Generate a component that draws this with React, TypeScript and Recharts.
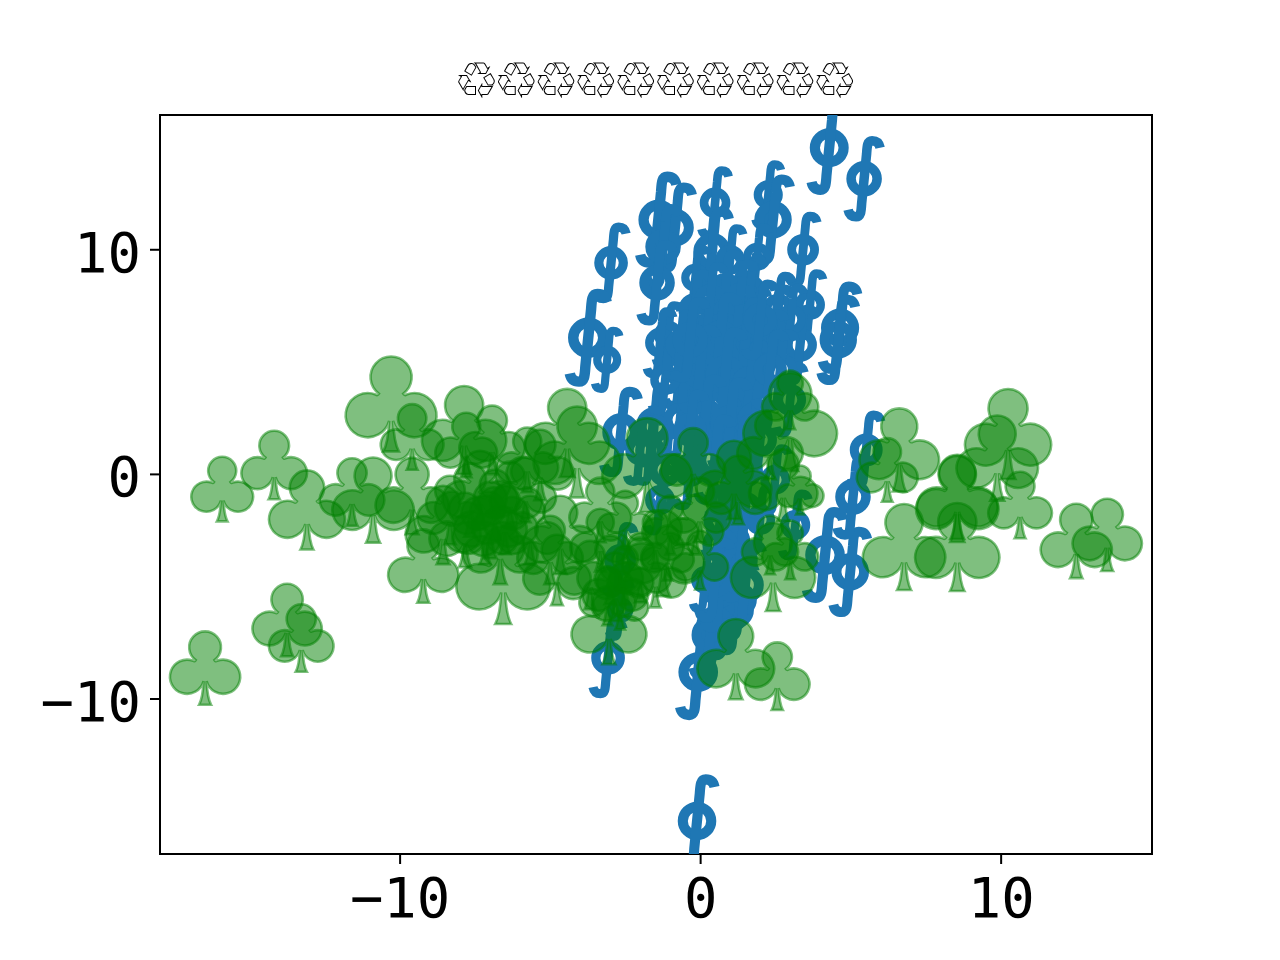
import React from "react";
import { ScatterChart, Scatter, XAxis, YAxis, ReferenceArea } from "recharts";

const titleText = "♲♲♲♲♲♲♲♲♲♲";
const xTicks = [-10, 0, 10];
const yTicks = [-10, 0, 10];

const blueX = [4.28,5.44,-2.98,-3.74,-3.11,-1.41,-0.85,-1.25,-1.45,0.48,0.38,2.25,2.41,1.88,3.41,-0.18,4.64,4.58,-1.08,-1.35,0.98,2.58,3.64,3.31,2.48,3.0,-2.65,-1.55,4.98,4.14,5.07,5.51,-3.08,-0.08,-0.12,0.82,1.15,1.31,0.48,0.32,0.65,1.48,0.65,1.15,1.65,0.32,0.98,0,-0.68,-1.18,-0.35,0.32,0.98,1.81,2.31,1.31,0.65,0,-0.68,-0.35,0.82,1.98,1.48,2.48,-1.68,-1.18,0.65,1.98,3.15,2.98,2.65,-0.18,0.82,1.65,-0.68,0.32,-2.01,-1.35,1.15,-2.68,-2.68,0.15,1.31,0.65,1.48,-0.02,0.82,1.65,0.15,0.98,1.81,0.48,1.31,0.82,1.48,0.65,1.31,0.48,-0.35,1.98,2.31,-0.35];
const blueY = [14.54,13.16,9.42,6.08,5.10,11.34,10.98,10.13,8.53,12.09,9.91,12.45,11.34,9.69,10.00,8.75,6.53,5.99,6.21,5.86,9.55,7.33,7.55,5.77,6.44,6.9,1.89,2.20,-4.34,-3.59,-1.00,1.09,-8.17,-8.80,-15.43,-6.26,-6.04,-5.59,-6.70,-7.15,-5.14,-4.92,6.88,7.33,6.44,5.55,5.55,6.0,4.66,4.21,3.32,3.32,3.77,5.10,5.55,2.43,1.54,1.54,2.43,0.20,-0.24,1.54,0.20,-0.24,1.07,0.20,-2.03,-2.03,-2.25,3.32,4.66,7.33,8.22,8.22,5.77,7.77,1.07,-1.14,-2.92,-3.81,-6.04,-4.70,7.77,5.99,5.77,4.65,4.43,3.99,2.43,2.2,2.43,0.65,0.65,-1.14,-1.58,-3.14,-3.81,-4.7,5.99,6.88,4.65,1.98];
const blueSize = [94,85,80,98,65,96,90,85,85,72,90,68,90,65,75,65,92,90,66,70,70,75,70,80,90,70,90,85,90,96,85,78,80,96,93,90,90,80,90,90,85,90,90,80,90,85,90,85,80,70,80,90,90,85,80,90,90,80,80,80,85,80,85,70,70,80,80,70,70,75,80,80,80,70,70,75,70,70,70,75,60,65,80,95,95,90,95,90,90,95,85,90,90,80,85,85,85,85,85,80,80,80];

const greenX = [-10.30,-9.60,-7.87,-6.94,-15.92,-14.19,-13.10,-11.60,-10.90,-9.60,-9.23,-6.57,-16.49,-13.76,-13.29,6.61,6.21,10.23,9.87,10.63,8.54,8.54,8.54,6.77,12.50,13.53,2.55,1.17,2.41,-3.05,2.98,2.98,-0.25,1.11,1.25,2.75,-1.78,-0.18,-1.25,-4.11,-4.44,-7.80,-7.67,-8.34,-7.34,-6.84,-6.34,-7.17,-6.67,-8.57,-5.77,-5.34,-5.84,-7.84,-5.67,-5.01,-4.67,-4.78,-3.68,-3.01,-2.51,-2.68,-2.01,-1.51,-3.34,-2.51,-3.34,-1.01,-0.02,-0.02,2.31,2.98,2.31,3.31,-7.0,-6.51,-2.84,-3.1,-1.5,-1.1];
const greenY = [3.14,1.67,1.98,1.54,-0.65,0.42,-1.58,-0.78,-1.14,-0.96,-4.08,-4.48,-8.62,-6.48,-7.28,1.09,0.20,1.80,0.73,-1.36,-1.09,-1.00,-3.23,-3.23,-2.96,-2.69,-8.98,-8.22,-4.12,-6.70,2.34,3.32,0.56,-0.24,-0.69,-0.47,0.42,-2.25,-3.50,1.00,1.85,1.31,-1.14,-1.58,-0.69,-1.36,-0.91,-2.47,-3.14,-2.25,0.65,0.42,-0.69,-2.47,-2.47,-3.36,-2.69,-4.25,-4.48,-4.25,-4.48,-5.59,-4.25,-4.48,-1.58,-2.03,-2.92,-2.25,-1.58,-3.81,-3.14,-3.36,1.31,-0.69,-2.03,-2.03,-5.0,-5.4,-2.9,-3.5];
const greenSize = [97,67,90,70,66,70,81,69,87,78,75,100,75,74,69,85,65,92,87,68,88,86,90,88,76,74,69,82,90,80,100,60,69,80,70,73,96,60,88,93,90,66,75,70,80,72,68,70,80,80,66,72,66,76,70,70,80,72,70,70,60,60,66,66,66,60,64,60,66,60,60,60,70,50,78,70,70,60,60,56];

const blueData = blueX.map((x, i) => ({ x, y: blueY[i], size: blueSize[i] }));
const greenData = greenX.map((x, i) => ({ x, y: greenY[i], size: greenSize[i] }));

const CLUB = "M-.125 -.105A.212 .212 0 1 1 .125 -.105Q.14 -.08 .16 -.097A.228 .228 0 1 1 .02 .175Q.03 .4 .08 .49L-.08 .49Q-.03 .4 -.02 .175A.228 .228 0 1 1 -.16 -.097Q-.14 -.08 -.125 -.105Z";

const ClubMark = (p: any) => {
  const h = p.payload.size;
  return (
    <g transform={`translate(${p.cx},${p.cy}) scale(${h})`}>
      <path d={CLUB} fill="#008000" fillOpacity={0.5} stroke="#008000" strokeOpacity={0.5} strokeWidth={2.6 / h} />
    </g>
  );
};

const OintMark = (p: any) => {
  const h = p.payload.size;
  const k = h / 85;
  const sw = (3.6 + 0.07 * h) / k;
  return (
    <g transform={`translate(${p.cx},${p.cy}) scale(${k})`} fill="none" stroke="#1f77b4" strokeWidth={sw}>
      <circle r={13} />
      <path d="M16 -31C15 -36 12 -38 8 -38C3 -38 3 -32 2.5 -25L-2.5 25C-3 32 -3 38 -8 38C-12 38 -15 36 -16 31" />
    </g>
  );
};

const fmt = (v: number) => String(v).replace("-", "\u2212");
const MONO = "DejaVu Sans Mono";
const FS = 55.6;

const XTick = (p: any) => (
  <text x={p.x} y={917} textAnchor="middle" fontFamily={MONO} fontSize={FS} fill="#000">{fmt(p.payload.value)}</text>
);
const YTick = (p: any) => (
  <text x={141} y={p.y + 22} textAnchor="end" fontFamily={MONO} fontSize={FS} fill="#000">{fmt(p.payload.value)}</text>
);

export default function App() {
  return (
    <div style={{ position: "absolute", left: 0, top: 0, width: 1280, height: 960, background: "#fff", overflow: "hidden" }}>
      <div style={{ position: "absolute", left: 0, width: 1306, top: 51, textAlign: "center", fontFamily: "DejaVu Sans", fontSize: 50, letterSpacing: -5, lineHeight: "60px", color: "#000", whiteSpace: "nowrap" }}>
        {titleText}
      </div>
      <div style={{ position: "absolute", left: 0, top: 0 }}>
        <ScatterChart width={1280} height={960} margin={{ top: 115, right: 128, bottom: 0, left: 0 }}>
          <XAxis
            type="number"
            dataKey="x"
            domain={[-17.99, 15.02]}
            ticks={xTicks}
            allowDataOverflow
            height={106}
            tick={XTick}
            tickSize={10}
            tickLine={{ stroke: "#000", strokeWidth: 2 }}
            axisLine={{ stroke: "#000", strokeWidth: 2 }}
            label={{ value: "→", position: "bottom", offset: 68, style: { fontFamily: MONO, fontSize: FS, fill: "#000" } }}
          />
          <YAxis
            type="number"
            dataKey="y"
            domain={[-16.9, 16.0]}
            ticks={yTicks}
            allowDataOverflow
            width={160}
            tick={YTick}
            tickSize={10}
            tickLine={{ stroke: "#000", strokeWidth: 2 }}
            axisLine={{ stroke: "#000", strokeWidth: 2 }}
            label={{ value: "→", position: "insideLeft", angle: -90, offset: 0, dx: -154, style: { textAnchor: "middle", fontFamily: MONO, fontSize: FS, fill: "#000" } }}
          />
          <Scatter data={blueData} isAnimationActive={false} shape={OintMark} />
          <Scatter data={greenData} isAnimationActive={false} shape={ClubMark} />
          <ReferenceArea x1={-17.99} x2={15.02} y1={-16.9} y2={16.0} fill="none" stroke="#000" strokeWidth={2} ifOverflow="visible" />
        </ScatterChart>
      </div>
    </div>
  );
}
